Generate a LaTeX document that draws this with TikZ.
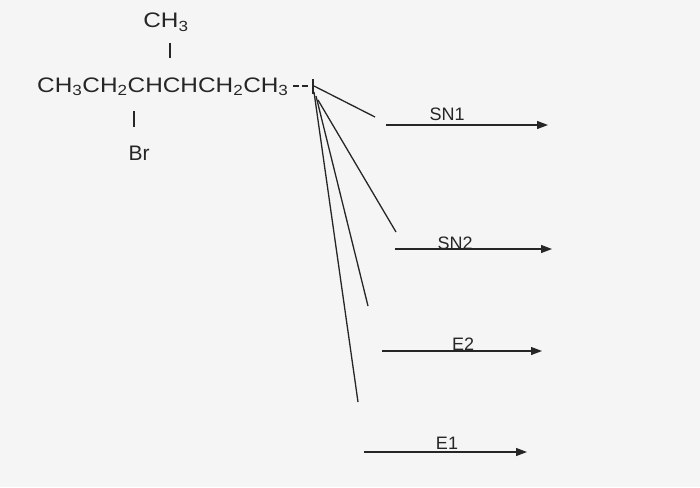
\documentclass[tikz,border=0pt]{standalone}
\usepackage{fontspec}
\setmainfont{Liberation Sans}
\usetikzlibrary{arrows.meta}
\begin{document}
\begin{tikzpicture}[x=1pt,y=-1pt,
  chem/.style={font=\fontsize{21}{24}\selectfont, inner sep=0pt, text=black!85},
  lab/.style={font=\fontsize{18}{21}\selectfont, inner sep=0pt, text=black!85},
  arr/.style={-{Triangle[length=11pt,width=8pt]}, line width=1.2pt, black!85},
  ln/.style={line width=1.3pt, black!85}]
\fill[gray!8] (0,0) rectangle (700,487);
\node[chem, anchor=base west] (main) at (37,92) {\scalebox{1.16}[1]{CH\textsubscript{3}CH\textsubscript{2}CHCHCH\textsubscript{2}CH\textsubscript{3}}};
\node[chem, anchor=base] (me) at (166,28) {\scalebox{1.16}[1]{CH\textsubscript{3}}};
\node[chem, anchor=base] (br) at (139,160) {Br};
\coordinate (b1t) at (170,43); \coordinate (b1b) at (170,58);
\coordinate (b2t) at (134,111); \coordinate (b2b) at (134,127);
\draw[ln] (b1t) -- (b1b);
\draw[ln] (b2t) -- (b2b);
\coordinate (d1) at (293,86); \coordinate (d2) at (299,86);
\coordinate (d3) at (302,86); \coordinate (d4) at (308,86);
\draw[ln] (d1) -- (d2); \draw[ln] (d3) -- (d4);
\coordinate (tk1) at (313,79); \coordinate (tk2) at (313,94);
\draw[ln] (tk1) -- (tk2);
\coordinate (o1) at (314,86); \coordinate (e1) at (375,117);
\coordinate (o2) at (318,100); \coordinate (e2) at (396,232);
\coordinate (o3) at (316,96); \coordinate (e3) at (368,306);
\coordinate (o4) at (314,92); \coordinate (e4) at (358,402);
\draw[ln] (o1) -- (e1); \draw[ln] (o2) -- (e2);
\draw[ln] (o3) -- (e3); \draw[ln] (o4) -- (e4);
\coordinate (a1s) at (386,125); \coordinate (a1e) at (548,125);
\coordinate (a2s) at (395,249); \coordinate (a2e) at (552,249);
\coordinate (a3s) at (382,351); \coordinate (a3e) at (542,351);
\coordinate (a4s) at (364,452); \coordinate (a4e) at (527,452);
\draw[arr] (a1s) -- (a1e); \draw[arr] (a2s) -- (a2e);
\draw[arr] (a3s) -- (a3e); \draw[arr] (a4s) -- (a4e);
\node[lab, anchor=base] (l1) at (447,120) {SN1};
\node[lab, anchor=base] (l2) at (455,249) {SN2};
\node[lab, anchor=base] (l3) at (463,350) {E2};
\node[lab, anchor=base] (l4) at (447,449) {E1};
\end{tikzpicture}
\end{document}
